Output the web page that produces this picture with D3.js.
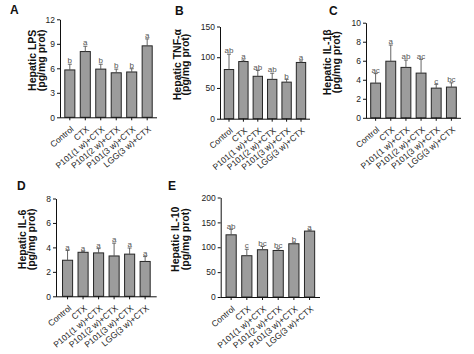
<!DOCTYPE html>
<html>
<head>
<meta charset="utf-8">
<script src="https://cdn.jsdelivr.net/npm/d3@7"></script>
<style>
  body { margin: 0; background: #fff; }
  svg { display: block; font-family: "Liberation Sans", Arial, sans-serif; }
</style>
</head>
<body>
<svg id="chart" width="474" height="354"></svg>
<script>
(function(){

  var groups = ["Control", "CTX", "P101(1 w)+CTX", "P101(2 w)+CTX", "P101(3 w)+CTX", "LGG(3 w)+CTX"]

  // panel A - LPS
  var lpsMean = [5.8, 8.05, 5.9, 5.45, 5.55, 8.75]
  var lpsSd = [0.7, 0.65, 0.6, 0.45, 0.4, 0.85]
  var lpsSig = ["b", "a", "b", "b", "b", "a"]
  var lpsTicks = [0, 3, 6, 9, 12]

  // panel B - TNF-a
  var tnfMean = [80, 93, 69, 64, 59.5, 91.5]
  var tnfSd = [25, 2.5, 9.5, 10, 4.5, 2.5]
  var tnfSig = ["ab", "a", "ab", "ab", "b", "a"]
  var tnfTicks = [0, 50, 100, 150]

  // panel C - IL-1b
  var il1Mean = [3.65, 5.95, 5.3, 4.7, 3.12, 3.23]
  var il1Sd = [1.0, 1.7, 0.77, 1.45, 0.4, 0.45]
  var il1Sig = ["ac", "a", "ab", "ac", "c", "bc"]
  var il1Ticks = [0, 2, 4, 6, 8, 10]

  // panel D - IL-6
  var il6Mean = [2.95, 3.6, 3.55, 3.3, 3.45, 2.85]
  var il6Sd = [0.8, 0.08, 0.35, 1.05, 0.5, 0.4]
  var il6Sig = ["a", "a", "a", "a", "a", "a"]
  var il6Ticks = [0, 2, 4, 6, 8]

  // panel E - IL-10
  var il10Mean = [125, 83, 95, 93.5, 107, 132.5]
  var il10Sd = [11, 13, 6.5, 3.5, 2, 1.5]
  var il10Sig = ["ab", "c", "bc", "bc", "b", "a"]
  var il10Ticks = [0, 50, 100, 150, 200]

  var svg = d3.select('#chart')

  var panels = [
    {tag: "A", title: "Hepatic LPS", mean: lpsMean, sd: lpsSd, sig: lpsSig, ticks: lpsTicks,
     x0: 60, x1: 157, po: 0.31, y0: 117.3, y1: 19.3, tagX: 10, tagY: 14, t1: 32, t2: 40.5},
    {tag: "B", title: "Hepatic TNF-\u03b1", mean: tnfMean, sd: tnfSd, sig: tnfSig, ticks: tnfTicks,
     x0: 220, x1: 310, po: 0.3, y0: 118.7, y1: 26.5, tagX: 175, tagY: 15, t1: 176.5, t2: 185},
    {tag: "C", title: "Hepatic IL-1\u03b2", mean: il1Mean, sd: il1Sd, sig: il1Sig, ticks: il1Ticks,
     x0: 366, x1: 461, po: 0.31, y0: 117.8, y1: 22.7, tagX: 329, tagY: 15, t1: 326.5, t2: 335.5},
    {tag: "D", title: "Hepatic IL-6", mean: il6Mean, sd: il6Sd, sig: il6Sig, ticks: il6Ticks,
     x0: 56, x1: 156.7, po: 0.42, y0: 296.3, y1: 198.5, tagX: 17, tagY: 190, t1: 21.5, t2: 31},
    {tag: "E", title: "Hepatic IL-10", mean: il10Mean, sd: il10Sd, sig: il10Sig, ticks: il10Ticks,
     x0: 220.7, x1: 320, po: 0.34, y0: 297, y1: 197.5, tagX: 168, tagY: 190, t1: 175, t2: 185}
  ]

  panels.forEach(function(p) {
    var g = svg.append('g')
    var top = p.ticks[p.ticks.length - 1]

    var x = d3.scaleBand()
      .domain(groups)
      .range([p.x0, p.x1])
      .paddingInner(0.35)
      .paddingOuter(p.po)

    var y = d3.scaleLinear()
      .domain([0, top])
      .range([p.y0, p.y1])

    // bars
    g.selectAll('rect.bar')
      .data(p.mean)
      .enter().append('rect')
      .attr('class', 'bar')
      .attr('x', (d, i) => x(groups[i]))
      .attr('y', d => y(d))
      .attr('width', x.bandwidth())
      .attr('height', d => y(0) - y(d))
      .attr('fill', '#9c9c9c')
      .attr('stroke', '#262626')
      .attr('stroke-width', 1)

    // upper error bars
    var cx = i => x(groups[i]) + x.bandwidth() / 2
    g.selectAll('line.err')
      .data(p.mean)
      .enter().append('line')
      .attr('x1', (d, i) => cx(i)).attr('x2', (d, i) => cx(i))
      .attr('y1', d => y(d)).attr('y2', (d, i) => y(d + p.sd[i]))
      .attr('stroke', '#555').attr('stroke-width', 0.9)
    g.selectAll('line.cap')
      .data(p.mean)
      .enter().append('line')
      .attr('x1', (d, i) => cx(i) - 2).attr('x2', (d, i) => cx(i) + 2)
      .attr('y1', (d, i) => y(d + p.sd[i])).attr('y2', (d, i) => y(d + p.sd[i]))
      .attr('stroke', '#555').attr('stroke-width', 0.9)

    // significance letters
    g.selectAll('text.sig')
      .data(p.sig)
      .enter().append('text')
      .attr('x', (d, i) => cx(i))
      .attr('y', (d, i) => y(p.mean[i] + p.sd[i]) - 0.8)
      .attr('text-anchor', 'middle')
      .attr('font-size', '8px')
      .attr('fill', '#555')
      .text(d => d)

    // y axis
    var yAxis = g.append('g')
      .attr('transform', 'translate(' + p.x0 + ',0)')
      .call(d3.axisLeft(y).tickValues(p.ticks).tickSize(3).tickSizeOuter(0).tickPadding(2))
    yAxis.selectAll('text').attr('font-size', '8.5px').attr('fill', '#222')

    // x axis
    var xAxis = g.append('g')
      .attr('transform', 'translate(0,' + p.y0 + ')')
      .call(d3.axisBottom(x).tickSize(3).tickSizeOuter(0))
    xAxis.select('.domain').attr('d', 'M' + p.x0 + ',0.5H' + p.x1)
    xAxis.selectAll('text')
      .attr('font-size', '8.5px')
      .attr('fill', '#222')
      .attr('text-anchor', 'end')
      .attr('x', 0).attr('y', 0)
      .attr('dy', '0.35em')
      .attr('transform', 'translate(2.5,10.5) rotate(-40)')

    g.selectAll('.domain, .tick line').attr('stroke', '#111').attr('stroke-width', 1)

    // y title, two lines
    var midY = (p.y0 + p.y1) / 2 - 8
    var lines = [[p.title, p.t1], ["(pg/mg prot)", p.t2]]
    lines.forEach(function(l) {
      g.append('text')
        .attr('transform', 'translate(' + l[1] + ',' + midY + ') rotate(-90)')
        .attr('text-anchor', 'middle')
        .attr('dominant-baseline', 'central')
        .attr('font-size', '10.5px')
        .attr('font-weight', 'bold')
        .attr('fill', '#111')
        .text(l[0])
    })

    // panel tag
    g.append('text')
      .attr('x', p.tagX).attr('y', p.tagY)
      .attr('font-size', '12px')
      .attr('font-weight', 'bold')
      .attr('fill', '#111')
      .text(p.tag)
  })
})()
</script>
</body>
</html>
